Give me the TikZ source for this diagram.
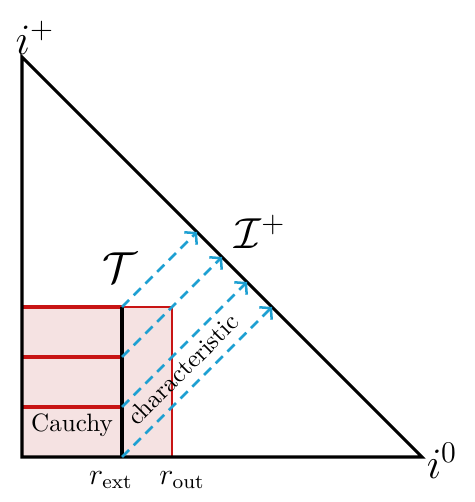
\documentclass[tikz,border=0pt]{standalone}
\usepackage{amsmath,amssymb}
\usepackage{tikz}
\usetikzlibrary{arrows.meta,positioning}
\usepackage{xcolor}
\definecolor{cauchyred}{RGB}{200,20,20}
\definecolor{cauchyfill}{RGB}{245,226,226}
\definecolor{charblue}{RGB}{30,160,210}

\begin{document}
\begin{tikzpicture}[scale=0.7]
\useasboundingbox (-0.44,-0.9) rectangle (9.04,9.14);
\tikzstyle{charline} = [-{Straight Barb[length=3pt,width=7pt]}, charblue, line width=1pt, dash pattern=on 4pt off 2.6pt]
% corners of the diagram
\coordinate (o) at (0,0);
\coordinate (ip) at (0,8);
\coordinate (io) at (8,0);
\coordinate (ext) at (2,0);
\coordinate (out) at (3,0);
\coordinate (c1) at (2,1);
\coordinate (c2) at (2,2);
\coordinate (c3) at (2,3);
\coordinate (l1) at (0,1);
\coordinate (l2) at (0,2);
\coordinate (l3) at (0,3);
\coordinate (t3) at (3,3);
% where the characteristics meet scri
\coordinate (s0) at (5,3);
\coordinate (s1) at (4.5,3.5);
\coordinate (s2) at (4,4);
\coordinate (s3) at (3.5,4.5);
\fill[cauchyfill] (o) rectangle (t3);
\draw[cauchyred, line width=0.5pt] (c3) -- (t3) -- (out);
\draw[cauchyred, line width=1.2pt] (l1) -- (c1)
	(l2) -- (c2)
	(l3) -- (c3);
\draw[line width=1.2pt] (ext) -- (c3);
\draw[line width=1.2pt] (ip) -- (o) -- (io) -- cycle;
\draw[charline] (ext) -- (s0);
\draw[charline] (c1) -- (s1);
\draw[charline] (c2) -- (s2);
\draw[charline] (c3) -- (s3);
% labels
\node (lip) at (0.26,8.38) {\LARGE $i^+$};
\node (lio) at (8.4,-0.08) {\LARGE $i^0$};
\node (lscri) at (4.76,4.5) {\LARGE $\mathcal{I}^+$};
\node (lt) at (1.96,3.78) {\LARGE $\mathcal{T}$};
\node (lext) at (1.78,-0.46) {\large $r_{\text{ext}}$};
\node (lout) at (3.2,-0.46) {\large $r_{\text{out}}$};
\node (cauchy) at (1.0,0.64) {Cauchy};
\node[rotate=45] (charact) at (3.22,1.76) {characteristic};
\end{tikzpicture}
\end{document}
